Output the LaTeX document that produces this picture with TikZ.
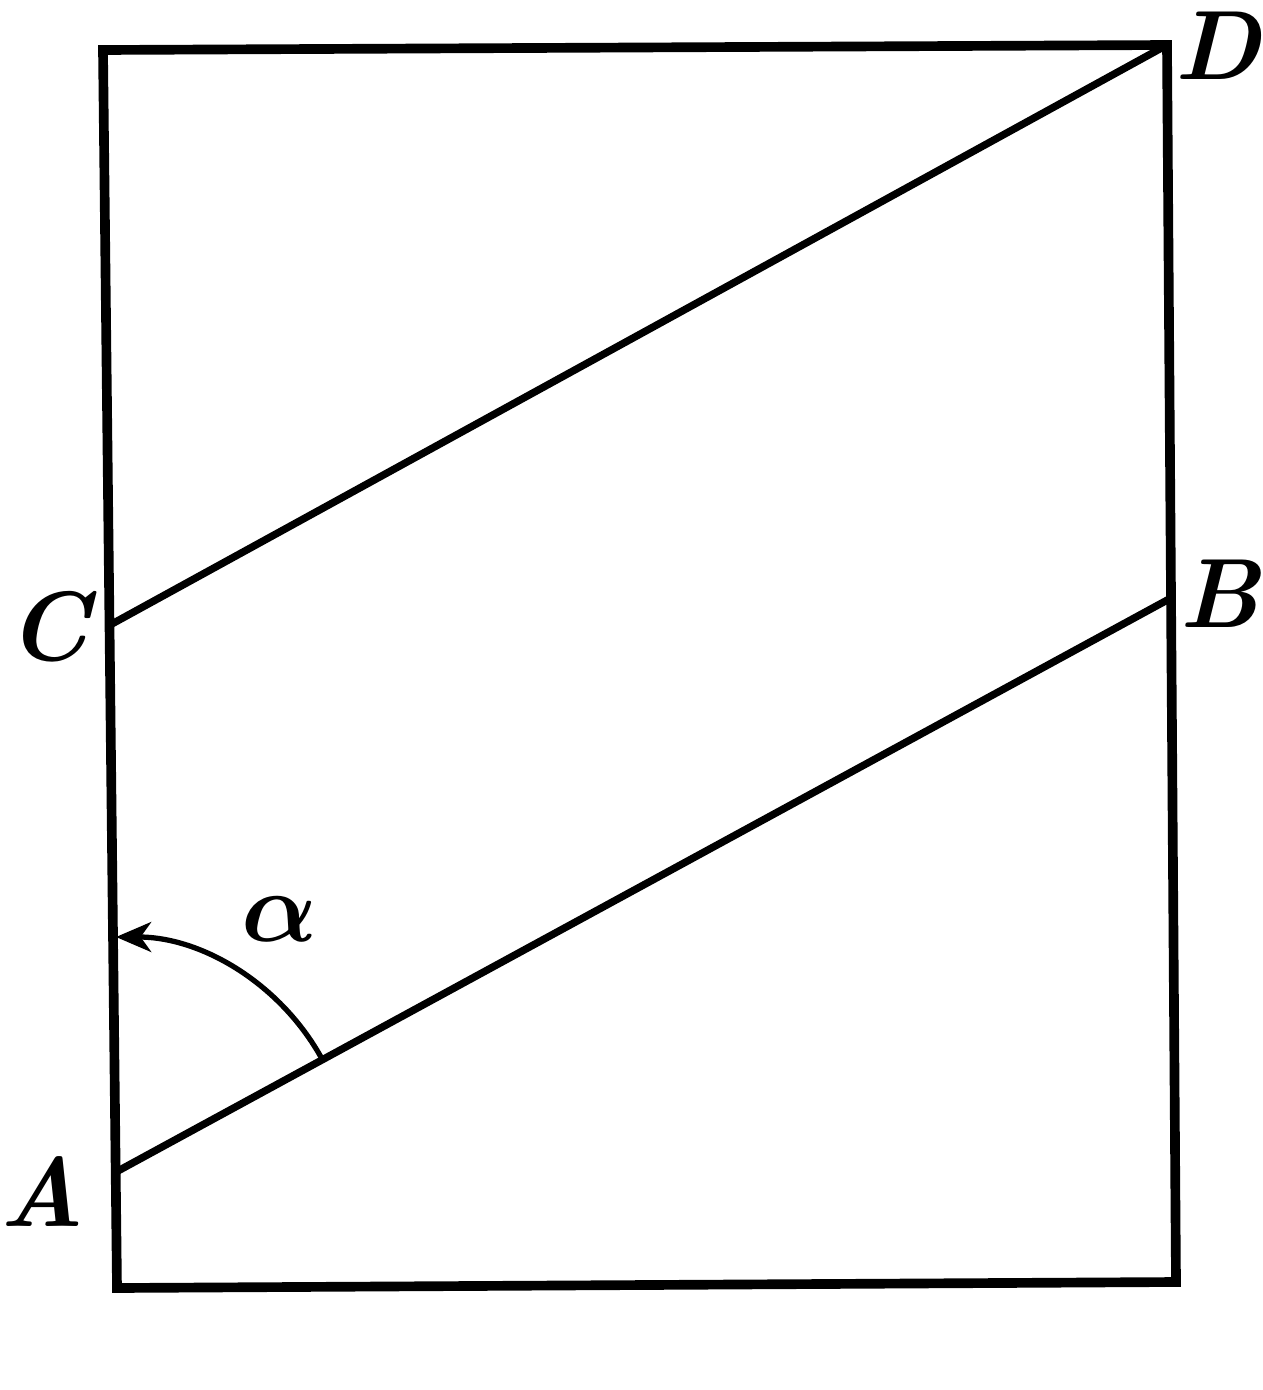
\documentclass[tikz,border=0pt]{standalone}
\usepackage{amsmath}
\usepackage{bm}
\usepackage{tikz}
\usetikzlibrary{arrows.meta}

\begin{document}
\begin{tikzpicture}[x=0.02cm,y=-0.02cm]
        \useasboundingbox (0,0) rectangle (1262,1390);
        % Corners of the frame
        \coordinate (tl) at (103,50);
        \coordinate (tr) at (1167,45);
        \coordinate (br) at (1176,1282);
        \coordinate (bl) at (117,1288);
        \draw[line width=5.5pt,line join=miter] (tl) -- (tr) -- (br) -- (bl) -- cycle;
        % Points on the sides
        \coordinate (A) at (116,1172);
        \coordinate (B) at (1171,598);
        \coordinate (C) at (110,625);
        \coordinate (D) at (1167,45);
        \draw[line width=4.2pt] (A) -- (B);
        \draw[line width=4.2pt] (C) -- (D);
        % Angle alpha
        \draw[line width=3pt,-{Stealth[length=20pt,width=17pt,inset=6pt]}] (A) ++(-28.5:235) arc[start angle=-28.5,end angle=-90,radius=235];
        % Labels
        \begin{scope}[font=\fontsize{56}{64}\selectfont\bfseries\itshape]
        \node (labA) at (42,1192) {A};
        \node (labB) at (1220,594) {B};
        \node (labC) at (48,627) {C};
        \node (labD) at (1218,46) {D};
        \end{scope}
        \node[scale=5.7] (alpha) at (280,919) {$\bm{\alpha}$};
    \end{tikzpicture}
\end{document}
